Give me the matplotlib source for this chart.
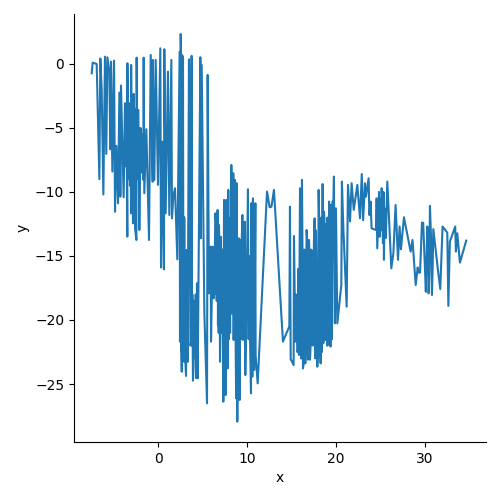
import numpy as np
import matplotlib
matplotlib.use('Agg')
import matplotlib.pyplot as plt

# values, in axis units
x_left = [-7.45, -7.34, -6.89, -6.59, -6.48, -6.33, -6.14, -5.96, -5.81, -5.69, -5.47, -5.36, -5.28, -5.13, -4.94,
          -4.83, -4.68, -4.49, -4.34, -4.23, -4.16, -3.86, -3.71, -3.45, -3.44, -3.22, -3.03, -3.02, -2.81, -2.73,
          -2.58, -2.43, -2.40, -2.21, -2.10, -1.91, -1.84, -1.65, -1.61, -1.54, -1.31, -1.01, -0.82, -0.60, -0.58,
          -0.41, -0.26, 0.00, 0.26, 0.34, 0.49, 0.67, 0.71, 0.86, 1.12, 1.27, 1.50, 1.57, 1.72, 1.91, 2.17]
y_left = [-0.73, 0.10, 0.00, -9.00, 0.42, -1.98, -10.20, 0.57, -7.03, 0.52, -0.60, -6.67, 0.18, -8.41, 0.26,
          -11.54, -6.40, -10.89, -2.24, -10.36, -1.69, -10.42, -3.07, -13.49, 0.05, -3.07, -11.67, -0.08, -12.45, -2.34,
          -12.84, -13.75, 0.49, -3.59, -12.97, -8.02, -5.94, -9.06, 0.49, -10.10, -5.10, -13.75, 0.70, -9.20, 0.31,
          -9.06, 0.31, -9.45, 1.22, -15.90, -6.07, -16.04, 1.15, -11.67, -0.60, -11.80, 0.31, -12.06, -10.36, -9.71, -15.26]

x_mid = [2.43, 2.47, 2.55, 2.60, 2.67, 2.70, 2.81, 2.88, 2.92, 3.15, 3.22, 3.33, 3.48, 3.60, 3.71, 3.78, 3.93, 4.08,
         4.30, 4.38, 4.46, 4.76, 4.80, 4.91, 5.21, 5.51, 5.58, 5.73, 5.92, 5.96, 6.14, 6.25, 6.44, 6.70, 6.74, 6.85,
         6.97, 7.08, 7.20, 7.34, 7.42, 7.60, 7.68, 7.83, 7.90, 8.01, 8.24, 8.35, 8.46, 8.50, 8.65, 8.73, 8.78, 8.84,
         8.91, 9.06, 9.18, 9.29, 9.48, 9.55, 9.74, 9.81, 9.95, 10.11, 10.30, 10.45, 10.49, 10.60, 10.67, 10.82, 10.94,
         10.97, 11.20, 12.25, 12.55, 12.75, 13.03, 14.04, 14.27]
y_mid = [0.96, -21.69, 2.34, -22.40, -24.04, 0.70, 0.44, -11.93, -23.26, -24.37, -14.53, -23.26, 0.36, -16.88, -21.69,
         0.63, -24.74, -18.83, -24.55, -17.14, -24.55, 0.52, -13.62, -0.08, -19.48, -26.51, -0.86, -17.92, -14.27, -21.69,
         -14.27, -18.31, -11.67, -11.41, -20.39, -12.58, -23.26, -16.88, -19.70, -26.38, -10.62, -25.86, -10.62, -23.78,
         -9.84, -20.52, -7.89, -19.48, -8.54, -21.56, -9.06, -22.21, -26.12, -9.32, -27.94, -13.62, -26.25, -13.75,
         -11.80, -21.56, -12.32, -24.30, -16.88, -9.79, -19.90, -25.73, -10.88, -24.43, -10.50, -23.90, -10.88,
         -22.73, -24.95, -9.97, -11.20, -11.15, -9.84, -21.69, -21.30]

x_right = [14.76, 14.83, 14.91, 15.24, 15.28, 15.43, 15.60, 15.73, 15.84, 15.96, 16.03, 16.18, 16.29, 16.40, 16.55,
           16.70, 16.85, 16.97, 17.08, 17.30, 17.45, 17.60, 17.90, 18.05, 18.28, 18.50, 18.58, 18.65, 18.84, 18.95,
           19.10, 19.22, 19.40, 19.62, 19.77, 19.88, 20.00, 20.15, 20.60, 20.67, 20.82, 21.20, 21.35, 21.58, 21.76,
           22.00, 22.40, 22.70, 22.90, 23.05, 23.26, 23.37, 23.67, 23.75, 23.90, 24.00, 24.50, 24.57, 24.64, 24.79,
           24.94, 25.13, 25.39, 25.47, 25.60, 25.77, 26.22, 26.45, 26.70, 26.97, 27.15, 27.30, 27.64, 28.39, 28.60,
           28.76, 28.96, 29.18, 29.29, 29.45, 29.66, 29.80, 30.10, 30.26, 30.41, 30.56, 30.79, 30.94, 31.46, 31.72,
           31.98, 32.51, 32.63, 32.80, 33.40, 33.48, 33.63, 33.93, 34.64]
y_right = [-20.50, -11.15, -23.05, -23.52, -13.44, -21.69, -20.30, -22.30, -22.73, -9.71, -22.08, -9.06, -23.78, -16.50,
           -23.39, -12.97, -23.10, -13.75, -23.10, -14.66, -21.70, -12.06, -23.65, -9.84, -23.39, -9.38, -21.82, -11.54,
           -21.56, -13.10, -21.95, -10.75, -22.08, -10.75, -8.80, -20.26, -11.28, -20.26, -17.27, -9.19, -12.70, -18.96,
           -9.45, -12.30, -9.32, -11.40, -9.45, -12.06, -8.60, -12.20, -9.32, -10.37, -8.93, -11.80, -10.75, -12.84,
           -12.97, -10.50, -14.40, -11.15, -13.23, -9.71, -15.30, -11.28, -13.60, -9.19, -15.96, -14.80, -11.02, -15.30,
           -12.70, -14.48, -11.98, -14.66, -13.75, -15.30, -17.27, -15.90, -16.30, -16.30, -12.40, -12.40, -17.80, -12.70,
           -17.92, -11.09, -18.05, -12.90, -16.10, -17.58, -12.70, -13.18, -18.90, -13.88, -12.70, -14.66, -13.23, -15.52,
           -13.80]

# estimates for the strokes inside the solid looking bands
x_dense = [-3.60, -3.55, -3.35, -3.30, -3.15, -3.10, -2.95, -2.90, -2.65, -2.62, -2.32, -2.28, -2.02, -1.97, -1.78, -1.72,
           2.51, 2.58, 2.63, 2.74, 2.78, 2.85, 2.95, 3.00, 3.55, 3.65, 3.75, 3.82, 3.86, 4.00, 4.04, 4.18, 4.24, 4.34,
           6.30, 6.35, 6.55, 6.60, 6.78, 6.82, 6.90, 7.02, 7.05, 7.14, 7.25, 7.30, 7.47, 7.55, 7.63, 7.72, 7.78, 7.95,
           8.05, 8.10, 8.15, 8.20, 8.30, 8.40, 8.55, 8.60, 8.70, 8.97, 9.00, 9.12, 9.24, 9.35, 9.40, 9.60, 9.68, 9.88,
           10.02, 10.18, 10.25,
           15.50, 15.66, 15.78, 16.10, 16.24, 16.35, 16.45, 16.60, 16.78, 16.90, 17.02, 17.15, 17.22, 17.38, 17.52, 17.68,
           17.75, 17.98, 18.12, 18.20, 18.35, 18.42, 18.70, 18.77, 18.90, 19.00, 19.05, 19.15, 19.30, 19.35, 19.48, 19.55,
           19.70, 24.70, 24.84, 24.90, 25.00, 25.06, 25.20, 25.28, 25.34,
           30.18, 30.34, 30.48, 30.68, 30.86]
y_dense = [-8.00, -3.20, -9.00, -3.50, -9.50, -3.40, -8.50, -3.00, -9.50, -3.50, -9.00, -3.60, -9.00, -5.00, -8.50, -5.50,
           -20.00, 0.80, -22.00, -21.00, 0.60, -20.00, -12.00, -22.00, -5.00, -22.00, -19.00, -22.00, -18.00, -23.50, -18.50,
           -23.00, -18.00, -24.00,
           -14.50, -18.00, -12.50, -18.50, -13.00, -21.00, -14.00, -20.50, -13.50, -21.00, -14.50, -22.00, -15.00, -22.50,
           -14.50, -22.00, -14.00, -21.50, -13.00, -21.00, -12.00, -19.50, -12.50, -19.00, -13.00, -20.50, -14.00, -20.00,
           -14.50, -21.00, -15.00, -21.50, -14.00, -20.00, -15.00, -21.00, -14.50, -21.50, -15.00,
           -18.00, -22.50, -16.00, -23.00, -15.00, -23.50, -14.50, -22.50, -14.00, -23.00, -15.00, -22.00, -14.50, -22.00,
           -14.00, -23.00, -13.00, -22.50, -12.50, -22.00, -12.00, -22.50, -12.00, -21.50, -12.50, -22.00, -12.00, -21.50,
           -11.50, -22.00, -11.00, -21.50, -11.00, -13.00, -10.00, -13.50, -10.50, -13.00, -10.50, -14.00, -10.00,
           -15.50, -13.00, -16.50, -13.50, -16.00]

x = np.array(x_left + x_mid + x_right + x_dense)
y = np.array(y_left + y_mid + y_right + y_dense)
order = np.argsort(x)

fig = plt.figure(figsize=(5, 5), dpi=100)
ax = fig.add_axes([0.148, 0.116, 0.824, 0.856])
ax.plot(x[order], y[order], color='#1f77b4', linewidth=1.5)
ax.set_xlim(-9.44, 36.86)
ax.set_ylim(-29.53, 3.9)
ax.set_xlabel('x')
ax.set_ylabel('y')
ax.spines['top'].set_visible(False)
ax.spines['right'].set_visible(False)
fig.savefig('out.png', dpi=100)
